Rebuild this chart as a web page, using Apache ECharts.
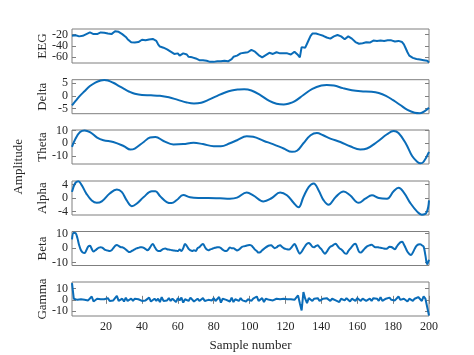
<!DOCTYPE html>
<html><head><meta charset="utf-8">
<script src="https://cdn.jsdelivr.net/npm/echarts@6/dist/echarts.min.js"></script>
<style>html,body{margin:0;padding:0;background:#fff}#c{width:474px;height:355px}</style>
</head><body><div id="c"></div>
<script>
// ---- data ----
const panelNames = ['EEG', 'Delta', 'Theta', 'Alpha', 'Beta', 'Gamma'];
const xTicks = [20, 40, 60, 80, 100, 120, 140, 160, 180, 200];

const eegValues = [-22,-21,-21,-22,-23,-23.5,-22,-20,-19,-17,-16,-14.5,-19,-22,-19,-17,-16,-17,-16.5,-17,
-18,-16,-19,-16,-14,-12.5,-15,-18,-19,-21,-24,-28,-31,-33.5,-32,-34,-32,-33,-31,-29,
-28,-30,-31,-28.5,-29,-27.5,-30,-31,-37,-41,-40,-43,-43,-46,-49,-50,-52,-54,-55,-53,
-57,-56,-53,-51,-55,-59,-57,-60,-61,-62,-64,-65,-63,-65,-66,-66,-68,-68,-67.5,-68,
-65,-67,-66,-67,-65,-66,-64.5,-67,-67.5,-63,-59,-58,-57,-54,-53,-51,-52,-50,-51,-49,
-47,-46.5,-50,-53,-56,-59,-60,-58,-56,-54,-52,-52,-54,-53,-51,-52,-53,-52,-53,-54,
-53,-54,-55,-53,-50,-52,-56,-60,-42,-40,-43,-36,-29,-22,-18,-16.5,-18,-21,-20,-19.5,
-22,-23,-25,-26,-27,-24,-23,-21,-20.5,-21,-23,-24,-28,-25,-23,-24,-27,-29,-33,-36.5,
-36,-37,-35,-36,-33.5,-35,-34,-32,-30.5,-33,-31,-32,-30.5,-32,-31,-30.5,-30,-28,-30,-31,
-32,-33,-31,-29,-33,-37,-44,-51,-57,-59,-61,-62,-63,-66.5,-64,-66,-65,-67,-66,-69];

const deltaSamples = [1,3,5,8,11,14,17,19,21,24,27,30,33,36,40,45,50,55,60,65,69,73,77,82,86,90,94,97,101,106,111,115,119,122,125,130,135,140,143,147,152,157,162,168,172,176,180,184,188,192,195,198,200];
const deltaValues = [-3.7,-2,-0.3,1.8,3.8,5.2,6,6.2,6,5.1,3.9,2.7,1.6,0.8,0.3,0.2,0,-0.6,-1.6,-2.6,-3,-2.7,-1.6,0,1.2,2.1,2.5,2.6,2.1,0.3,-2,-3.1,-3.4,-3,-2.2,0.3,2.7,4,4.2,4,3,2.2,1.8,1.6,1.1,0,-1.7,-3.6,-5.5,-6.6,-6.8,-5.8,-4.7];

const thetaSamples = [1,3,5.5,8,11,15,18.5,24,30,33.5,36,41,44.5,47.5,52,57.5,63,68.7,74,80,84,89,93,98.4,102,108,113,119,123.6,126.4,130,134,137.5,141,145,150.6,156,161.7,165.4,171,176.6,180.3,183,187,190.6,193.4,195.2,197,200];
const thetaValues = [-2.9,3.7,8.9,10.2,8.9,4.5,2.4,1,-2.4,-5,-4.2,1,4.5,4.9,1.8,-1,-0.7,0.3,-0.7,-2.4,-2.4,0,2.4,5.5,5.1,1.8,-0.7,-4.2,-6.8,-6,0,6.3,8.1,6.3,3.7,1,-2.4,-5,-4.2,1,7.1,9.7,8.1,0,-10.2,-14.7,-16,-14.7,-6.8];

const alphaSamples = [1,2.7,4.5,6.4,9,12,14.8,17.6,22,26,28.7,31.5,34.3,37,41,45.5,47.5,50,53.8,56.5,59.4,63,66.8,71.4,77,83.6,89,93,98.4,102,107.7,112.4,117,120.8,124.5,127.3,130,133,135.7,138.5,141.3,144,148,152.4,156,160.8,164.5,168.2,172,176.6,180.3,183,186,189.6,193.4,196,198.6,200];
const alphaValues = [1.8,4.3,4.9,3.8,1.3,-0.7,-1.4,-1,1.3,2.5,1.8,-0.7,-2.4,-1.7,0.3,2,2,0.6,-1.2,-1.5,-0.6,0.9,0.2,0,0,-0.1,-0.2,0.1,1.6,0.8,-1,0,1.6,0.8,-1.4,-2.7,0.3,3.3,4.3,2.2,-0.7,-2,0.3,1.9,0.8,-1.4,-0.2,0.8,0,-0.2,2,3,1.6,-1.5,-4,-4.9,-4.3,-0.7];

const betaValues = [6,10.7,10.4,7,2,-1.5,-3,-3.3,-1.5,1,1.7,-0.5,-2.4,-1.5,-0.5,0.3,0.7,0.2,-0.8,-1.4,
-1.7,-2,-1.5,0,1.5,2.2,1.5,0.8,0.6,0,-1,-2,-2.7,-2.2,-1.5,-0.8,-0.2,0.2,0.6,0.7,
0.2,-0.6,-1.4,-0.5,1.5,2.9,1,-1,-2,-2,-1.2,-0.5,-0.2,-0.8,-1,-1.2,-1.5,-1.7,-1.8,-2,
-1,-2,0,2.9,1.5,-0.5,-1.5,-2,-1.5,-2,0,0.7,2,2.9,1,-0.8,-1.4,-0.9,-0.5,0,
0.3,0.6,0.7,0,-1,-1.8,-2,-1,0.5,0,0,-0.8,-1.6,-1,0,1,1.3,1.6,2,2.2,
1.8,0.5,-1,-2,-3.1,-2.8,-1.5,-0.5,0.5,1.3,1.8,2,1,0,0.5,1.5,2,1,0,-0.5,
-0.8,-1,0,1.5,2.9,1,-2,-3.8,-2.5,-0.4,1.5,3,3.6,2.5,1,0.7,1.5,2,0.5,-0.7,
-2.5,-3.8,-2.5,-0.5,1,1.5,2.5,3.1,1.5,0,-0.8,-2,-3.5,-3.8,-2,-0.5,1,2.5,3.1,0.5,
-2.5,-3.1,-2,-0.5,0.7,1.5,2,2.4,1.5,0.7,0.7,0.5,0.2,0,-0.3,-0.5,0,1,0.8,0,
-0.7,1,2.7,4,4.4,2.5,0,-2.5,-4,-4.7,-3,-0.5,1.5,2.5,2.7,2,1,-5,-11,-8];

const gammaValues = [15,1,0.5,0,-1,0.5,0.5,0,1,-0.5,0,3,-1.5,-1,1,-0.5,0.5,-1,0.5,0,
1.5,-1,0.5,-0.5,1,3.5,-1,0,1,-1.5,2,-1,0.5,1,-1,1,-0.5,0.5,1.5,-1,
0.5,-0.5,1,2,-1.5,0,1,-1,1,-2,2.5,-1,0.5,-0.5,1.5,-1,1,0,-2,1.5,
-0.5,2,-2.5,0.5,1,-1,2,3,-1.5,0,1,-1,0.5,1.5,-1,0.5,0,1,-0.5,1.5,
-1,0.5,2.5,-2.5,1,-0.5,0,1.5,-1.5,2,-2,0.5,1,-1,1.5,-0.5,1,-1.5,0.5,2,
-1,1,-0.5,3,-1,0,1.5,-2,1,0.5,0,1,-0.5,0.5,1,0,0.5,0,1,0,
0.5,0,0.5,1,0,2,4,-3,-9.5,7,1,-3,1.5,0.5,-1,1,0,1.5,-1,0.5,
1,-0.5,1.5,0,-1,1,0.5,-0.5,1,-2,1,0.5,-0.5,1.5,0,-1.5,1,0.5,-1,1.5,
0,-1,1,2,-1,0.5,1,-1,1.5,0,1,-1,2.5,-1,0.5,1,-0.5,2,0,1,
-0.5,1,3,0,-0.5,1,2.5,-1.5,1,2,-1,1,0,2.5,1,-1,3,1,0,-14];

const yRanges = [[-70,-10],[-7,6.3],[-16.5,10.5],[-5,5],[-12,11.5],[-14.5,16]];
const yTicks = [[-60,-40,-20],[-5,0,5],[-10,0,10],[-4,0,4],[-10,0,10],[-10,0,10]];

// ---- build ----
function perSample(vals){ return vals.map((v,i)=>[i+1,v]); }
function pairs(xs,ys){ return xs.map((x,i)=>[x,ys[i]]); }
const seriesData = [
  perSample(eegValues),
  pairs(deltaSamples, deltaValues),
  pairs(thetaSamples, thetaValues),
  pairs(alphaSamples, alphaValues),
  perSample(betaValues),
  perSample(gammaValues)
];
const smoothFlags = [false, true, true, true, true, false];

const FONT = 'Liberation Serif';
const frameColor = '#7f7f7f';
const textColor = '#262626';
const lineColor = '#0a6cb8';
const gridTops = [29, 79.7, 130, 181, 231.5, 282];
const gridH = 34;

const grid = [], xAxis = [], yAxis = [], series = [];
const labelStyle = {hideOverlap: false, fontFamily: FONT, fontSize: 12, color: textColor, margin: 4};
panelNames.forEach((name, i) => {
  const last = i === panelNames.length - 1;
  grid.push({left: 72, right: 45, top: gridTops[i], height: gridH, show: true,
    borderColor: frameColor, borderWidth: 1, backgroundColor: 'transparent', containLabel: false});
  xAxis.push({gridIndex: i, type: 'value', min: 1, max: 200, position: 'bottom',
    axisLine: {show: false}, splitLine: {show: false},
    axisTick: {show: last, inside: true, length: 4, customValues: xTicks, lineStyle: {color: frameColor}},
    axisLabel: Object.assign({}, labelStyle, {show: last, customValues: xTicks, margin: 5}),
    name: last ? 'Sample number' : '', nameLocation: 'middle', nameGap: 23, nameMoveOverlap: false,
    nameTextStyle: {fontFamily: FONT, fontSize: 13, color: textColor}});
  const xIdx = xAxis.length - 1;
  if (last) {
    xAxis.push({gridIndex: i, type: 'value', min: 1, max: 200, position: 'top',
      axisLine: {show: false}, splitLine: {show: false},
      axisTick: {show: true, inside: true, length: 4, customValues: xTicks, lineStyle: {color: frameColor}},
      axisLabel: {show: false}});
  }
  const yr = yRanges[i], yt = yTicks[i];
  // main left axis: ticks, outer labels, name
  yAxis.push({gridIndex: i, type: 'value', min: yr[0], max: yr[1], position: 'left',
    axisLine: {show: false}, splitLine: {show: false},
    axisTick: {show: true, inside: true, length: 4, customValues: yt, lineStyle: {color: frameColor}},
    axisLabel: Object.assign({}, labelStyle, {customValues: [yt[0], yt[2]]}),
    name: name, nameLocation: 'middle', nameGap: 23, nameRotate: 90, nameMoveOverlap: false,
    nameTextStyle: {fontFamily: FONT, fontSize: 13, color: textColor}});
  const yIdx = yAxis.length - 1;
  // second left axis: middle label only (avoids overlap hiding)
  yAxis.push({gridIndex: i, type: 'value', min: yr[0], max: yr[1], position: 'left', offset: 0,
    axisLine: {show: false}, splitLine: {show: false}, axisTick: {show: false},
    axisLabel: Object.assign({}, labelStyle, {customValues: [yt[1]]})});
  // right axis: inward ticks only
  yAxis.push({gridIndex: i, type: 'value', min: yr[0], max: yr[1], position: 'right',
    axisLine: {show: false}, splitLine: {show: false},
    axisTick: {show: true, inside: true, length: 4, customValues: yt, lineStyle: {color: frameColor}},
    axisLabel: {show: false}});
  series.push({type: 'line', xAxisIndex: xIdx, yAxisIndex: yIdx, data: seriesData[i],
    showSymbol: false, symbol: 'none', smooth: smoothFlags[i] ? 0.4 : false, clip: true,
    lineStyle: {color: lineColor, width: 2}, animation: false});
});

const chart = echarts.init(document.getElementById('c'), null, {renderer: 'canvas'});
chart.setOption({
  animation: false,
  backgroundColor: '#fff',
  grid, xAxis, yAxis, series,
  graphic: [{type: 'text', left: 12, top: 139, rotation: Math.PI / 2,
    style: {text: 'Amplitude', font: '13px "Liberation Serif"', fill: textColor}}]
});
</script></body></html>
